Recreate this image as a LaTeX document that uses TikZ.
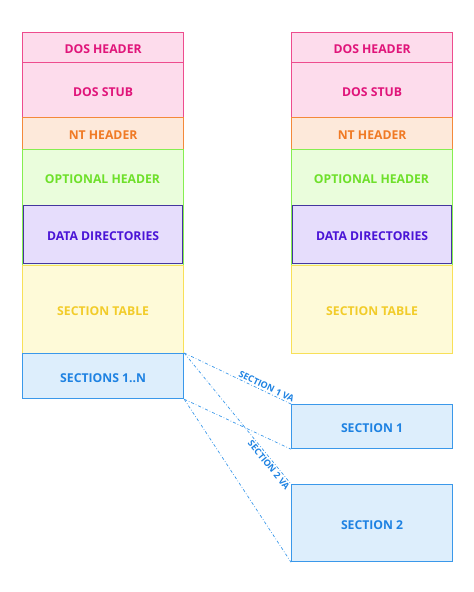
\documentclass[tikz,border=0pt]{standalone}
\usepackage{fontspec}
\IfFontExistsTF{Open Sans SemiBold}{\setmainfont{Open Sans}[BoldFont={Open Sans SemiBold}]}{\setmainfont{Open Sans}}
\usetikzlibrary{positioning}
\definecolor{dosfill}{HTML}{FDDCEC}
\definecolor{dosdraw}{HTML}{EE4C8E}
\definecolor{dostext}{HTML}{E0157A}
\definecolor{ntfill}{HTML}{FDE9DA}
\definecolor{ntdraw}{HTML}{F4893A}
\definecolor{nttext}{HTML}{F07A25}
\definecolor{opfill}{HTML}{EAFDDC}
\definecolor{opdraw}{HTML}{86EE50}
\definecolor{optext}{HTML}{6EE02A}
\definecolor{ddfill}{HTML}{E6DDFC}
\definecolor{dddraw}{HTML}{44359E}
\definecolor{ddtext}{HTML}{4A14D6}
\definecolor{stfill}{HTML}{FEFAD8}
\definecolor{stdraw}{HTML}{F8E058}
\definecolor{sttext}{HTML}{F2CC2A}
\definecolor{secfill}{HTML}{DDEEFC}
\definecolor{secdraw}{HTML}{3A98EA}
\definecolor{sectext}{HTML}{1E82E2}
\tikzset{
  boxfont/.style={font=\fontsize{12.2}{14}\selectfont\bfseries, text height=12pt, text depth=0pt},
  box/.style={rectangle, anchor=north west, draw, line width=1.2pt, inner sep=0pt, boxfont},
  dosbox/.style={box, fill=dosfill, draw=dosdraw, text=dostext},
  ntbox/.style={box, fill=ntfill, draw=ntdraw, text=nttext},
  opbox/.style={box, fill=opfill, draw=opdraw, text=optext},
  ddbox/.style={box, fill=ddfill, draw=dddraw, text=ddtext},
  stbox/.style={box, fill=stfill, draw=stdraw, text=sttext},
  secbox/.style={box, fill=secfill, draw=secdraw, text=sectext},
  valine/.style={draw=secdraw, line width=0.7pt, dash dot},
  valabel/.style={sloped, text=sectext, font=\fontsize{9}{10}\selectfont\bfseries, inner sep=1.5pt}
}
\begin{document}
\begin{tikzpicture}[x=1pt,y=-1pt]
\useasboundingbox (0,0) rectangle (474,592);
% left column
\node[dosbox, minimum width=161pt, minimum height=30pt] (ldh) at (22,32) {DOS HEADER};
\node[dosbox, minimum width=161pt, minimum height=55pt] (lds) at (22,62) {DOS STUB};
\node[ntbox, minimum width=161pt, minimum height=32pt] (lnt) at (22,117) {NT HEADER};
\node[opbox, minimum width=161pt, minimum height=116pt] (lop) at (22,149) {};
\node[text=optext, boxfont] (lopt) at (102.5,177.5) {OPTIONAL HEADER};
\node[ddbox, minimum width=159pt, minimum height=58pt] (ldd) at (23,205) {DATA DIRECTORIES};
\node[stbox, minimum width=161pt, minimum height=88pt] (lst) at (22,265) {SECTION TABLE};
\node[secbox, minimum width=161pt, minimum height=45pt] (lsec) at (22,353) {SECTIONS 1..N};
% right column
\node[dosbox, minimum width=161pt, minimum height=30pt] (rdh) at (291,32) {DOS HEADER};
\node[dosbox, minimum width=161pt, minimum height=55pt] (rds) at (291,62) {DOS STUB};
\node[ntbox, minimum width=161pt, minimum height=32pt] (rnt) at (291,117) {NT HEADER};
\node[opbox, minimum width=161pt, minimum height=116pt] (rop) at (291,149) {};
\node[text=optext, boxfont] (ropt) at (371.5,177.5) {OPTIONAL HEADER};
\node[ddbox, minimum width=159pt, minimum height=58pt] (rdd) at (292,205) {DATA DIRECTORIES};
\node[stbox, minimum width=161pt, minimum height=88pt] (rst) at (291,265) {SECTION TABLE};
\node[secbox, minimum width=161pt, minimum height=44pt] (rs1) at (291,404) {SECTION 1};
\node[secbox, minimum width=161pt, minimum height=77pt] (rs2) at (291,484) {SECTION 2};
% VA lines
\draw[valine] (lsec.north east) -- node[valabel, above, pos=0.75] {SECTION 1 VA} (rs1.north west);
\draw[valine] (lsec.south east) -- (rs1.south west);
\draw[valine] (lsec.north east) -- node[valabel, below, pos=0.83] {SECTION 2 VA} (rs2.north west);
\draw[valine] (lsec.south east) -- (rs2.south west);
\end{tikzpicture}
\end{document}
